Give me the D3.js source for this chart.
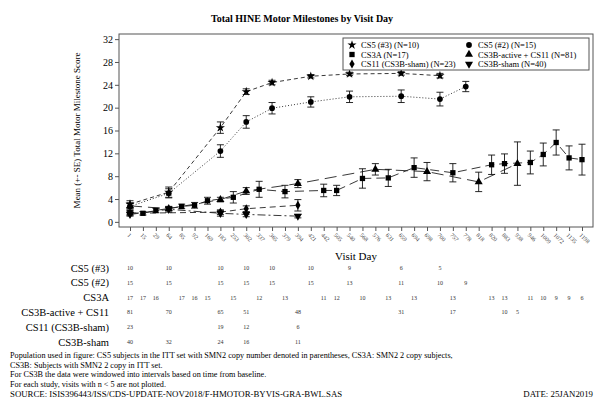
<!DOCTYPE html>
<html lang="en">
<head>
<meta charset="utf-8">
<title>Total HINE Motor Milestones by Visit Day</title>
<script src="https://d3js.org/d3.v7.min.js"></script>
<style>
  body { margin: 0; background: #fff; }
  svg text { font-family: "Liberation Serif", "Times New Roman", serif; fill: #000; }
</style>
</head>
<body>
<svg id="chart" width="604" height="399"></svg>
<script>
// one tick per visit day (categorical axis)
var days = ["1","15","29","64","85","92","169","183","253","302","337","365","379","394","421","442","505",
            "540","568","576","631","659","694","698","700","757","778","818","820","883","938","946",
            "1009","1072","1135","1198"];
var yTicks = [0, 4, 8, 12, 16, 20, 24, 28, 32];

// CS5 (#3)
var cs5n3Days = ["1","64","183","302","365","421","540","659","700"];
var cs5n3Mean = [3.1, 5.2, 16.5, 22.8, 24.4, 25.5, 25.9, 26.0, 25.6];
var cs5n3Se   = [0.6, 0.9, 1.0, 0.5, 0.4, 0.3, 0.3, 0.3, 0.4];
var cs5n3N    = [10, 10, 10, 10, 10, 10, 9, 6, 5];

// CS5 (#2)
var cs5n2Days = ["1","64","183","302","365","421","540","659","700","778"];
var cs5n2Mean = [2.7, 5.0, 12.4, 17.5, 19.9, 21.0, 21.9, 22.0, 21.5, 23.7];
var cs5n2Se   = [0.6, 0.8, 1.1, 1.1, 1.0, 0.9, 1.0, 1.1, 1.2, 0.9];
var cs5n2N    = [15, 15, 15, 15, 15, 15, 13, 11, 10, 9];

// CS3A
var cs3aDays = ["1","15","29","85","92","169","253","337","379","442","505","568","631","694","757",
                "820","883","946","1009","1072","1135","1198"];
var cs3aMean = [1.6, 1.5, 2.0, 2.7, 2.9, 3.7, 4.3, 5.7, 5.3, 5.5, 5.5, 7.6, 7.7, 9.5, 8.6,
                10.0, 10.2, 10.4, 11.8, 13.9, 11.2, 10.9];
var cs3aSe   = [0.4, 0.3, 0.4, 0.4, 0.5, 0.6, 1.0, 1.4, 1.1, 1.1, 0.9, 1.7, 1.5, 1.7, 1.6,
                1.7, 1.7, 2.0, 2.0, 2.2, 2.1, 2.7];
var cs3aN    = [17, 17, 16, 17, 16, 15, 15, 12, 13, 11, 12, 10, 13, 13, 13, 13, 13, 11, 10, 9, 9, 6];

// CS3B-active + CS11 (n row is printed at its own window days)
var cs3bActDays  = ["1","64","183","302","394","576","698","818","938"];
var cs3bActMean  = [2.8, 2.3, 3.9, 5.4, 6.7, 9.2, 8.8, 7.0, 10.2];
var cs3bActSe    = [0.5, 0.4, 0.4, 0.6, 0.7, 1.0, 1.6, 1.7, 3.8];
var cs3bActN     = [81, 70, 65, 51, 48, 31, 17, 10, 5];
var cs3bActNDays = ["1","64","183","302","394","659","757","883","938"];

// CS11 (CS3B-sham)
var cs11Days = ["1","183","302","394"];
var cs11Mean = [1.5, 1.7, 2.3, 2.9];
var cs11Se   = [0.3, 0.4, 0.5, 1.0];
var cs11N    = [23, 19, 12, 6];

// CS3B-sham
var cs3bShamDays = ["1","64","183","302","394"];
var cs3bShamMean = [1.3, 2.2, 1.5, 1.3, 1.0];
var cs3bShamSe   = [0.3, 0.5, 0.5, 0.4, 0.3];
var cs3bShamN    = [40, 32, 24, 16, 11];

var footnotes = [
  "Population used in figure: CS5 subjects in the ITT set with SMN2 copy number denoted in parentheses, CS3A: SMN2 2 copy subjects,",
  "CS3B: Subjects with SMN2 2 copy in ITT set.",
  "For CS3B the data were windowed into intervals based on time from baseline.",
  "For each study, visits with n < 5 are not plotted."
];

var series = [
  {legend: "CS5 (#3) (N=10)", row: "CS5 (#3)", days: cs5n3Days, mean: cs5n3Mean, se: cs5n3Se, n: cs5n3N,
   sym: d3.symbolStar, size: 26, rot: 0, dash: "4,3"},
  {legend: "CS5 (#2) (N=15)", row: "CS5 (#2)", days: cs5n2Days, mean: cs5n2Mean, se: cs5n2Se, n: cs5n2N,
   sym: d3.symbolCircle, size: 26, rot: 0, dash: "1,2"},
  {legend: "CS3A (N=17)", row: "CS3A", days: cs3aDays, mean: cs3aMean, se: cs3aSe, n: cs3aN,
   sym: d3.symbolSquare, size: 28, rot: 0, dash: "9,5"},
  {legend: "CS3B-active + CS11 (N=81)", row: "CS3B-active + CS11", days: cs3bActDays, mean: cs3bActMean, se: cs3bActSe, n: cs3bActN,
   nDays: cs3bActNDays, sym: d3.symbolTriangle, size: 28, rot: 0, dash: "12,6"},
  {legend: "CS11 (CS3B-sham) (N=23)", row: "CS11 (CS3B-sham)", days: cs11Days, mean: cs11Mean, se: cs11Se, n: cs11N,
   sym: d3.symbolDiamond, size: 24, rot: 0, dash: "6,4"},
  {legend: "CS3B-sham (N=40)", row: "CS3B-sham", days: cs3bShamDays, mean: cs3bShamMean, se: cs3bShamSe, n: cs3bShamN,
   sym: d3.symbolTriangle, size: 28, rot: 180, dash: "8,3,2,3"}
];

var svg = d3.select("#chart");
svg.append("rect").attr("width", 604).attr("height", 399).attr("fill", "#fff");

var plot = {left: 119, right: 593, top: 34, bottom: 227};

var x = d3.scalePoint().domain(days).range([130, 582]);
var y = d3.scaleLinear().domain([-0.9, 32.9]).range([plot.bottom, plot.top]);

// title
svg.append("text")
    .attr("x", 302).attr("y", 22)
    .attr("text-anchor", "middle")
    .style("font-size", "10px").style("font-weight", "bold")
    .text("Total HINE Motor Milestones by Visit Day");

// frame
svg.append("rect")
    .attr("x", plot.left).attr("y", plot.top)
    .attr("width", plot.right - plot.left).attr("height", plot.bottom - plot.top)
    .attr("fill", "none").attr("stroke", "#555").attr("stroke-width", 1);

// y axis
var yAxis = svg.append("g")
    .attr("transform", "translate(" + plot.left + ",0)")
    .call(d3.axisLeft(y).tickValues(yTicks).tickSize(4).tickPadding(2));
yAxis.select(".domain").remove();
yAxis.selectAll("line").attr("stroke", "#555");
yAxis.selectAll("text").style("font-size", "10px").style("font-family", "Liberation Serif, serif");

svg.append("text")
    .attr("transform", "translate(80," + ((plot.top + plot.bottom) / 2) + ") rotate(-90)")
    .attr("text-anchor", "middle")
    .style("font-size", "9px")
    .text("Mean (+- SE) Total Motor Milestone Score");

// x axis
var xAxis = svg.append("g")
    .attr("transform", "translate(0," + plot.bottom + ")")
    .call(d3.axisBottom(x).tickSize(4).tickPadding(2));
xAxis.select(".domain").remove();
xAxis.selectAll("line").attr("stroke", "#555");
xAxis.selectAll("text")
    .style("font-size", "6px").style("font-family", "Liberation Serif, serif")
    .style("fill", "#444")
    .attr("text-anchor", "start")
    .attr("transform", "translate(2,3) rotate(45)")
    .attr("dy", "0.3em");

svg.append("text")
    .attr("x", (plot.left + plot.right) / 2).attr("y", 260)
    .attr("text-anchor", "middle")
    .style("font-size", "11px")
    .text("Visit Day");

// lines
var line = d3.line()
    .x(function(d) { return x(d.day); })
    .y(function(d) { return y(d.mean); });

series.forEach(function(s) {
    s.points = s.days.map(function(d, i) { return {day: d, mean: s.mean[i], se: s.se[i]}; });
    var nd = s.nDays || s.days;
    s.counts = nd.map(function(d, i) { return {day: d, n: s.n[i]}; });
});

svg.append("g").selectAll("path")
    .data(series)
  .enter().append("path")
    .attr("d", function(s) { return line(s.points); })
    .attr("fill", "none")
    .attr("stroke", "#222")
    .attr("stroke-width", 0.9)
    .attr("stroke-dasharray", function(s) { return s.dash; });

// error bars
series.forEach(function(s) {
    var g = svg.append("g").attr("stroke", "#111").attr("stroke-width", 0.9);
    s.points.forEach(function(p) {
        var cx = x(p.day), y0 = y(p.mean - p.se), y1 = y(p.mean + p.se);
        g.append("line").attr("x1", cx).attr("x2", cx).attr("y1", y0).attr("y2", y1);
        g.append("line").attr("x1", cx - 3.5).attr("x2", cx + 3.5).attr("y1", y0).attr("y2", y0);
        g.append("line").attr("x1", cx - 3.5).attr("x2", cx + 3.5).attr("y1", y1).attr("y2", y1);
    });
});

// markers
series.forEach(function(s) {
    svg.append("g").selectAll("path")
        .data(s.points)
      .enter().append("path")
        .attr("d", d3.symbol().type(s.sym).size(s.size))
        .attr("transform", function(p) {
            return "translate(" + x(p.day) + "," + y(p.mean) + ") rotate(" + s.rot + ")";
        })
        .attr("fill", "#000");
});

// legend
var lg = {x: 343, y: 38, w: 246, h: 32};
svg.append("rect")
    .attr("x", lg.x).attr("y", lg.y).attr("width", lg.w).attr("height", lg.h)
    .attr("fill", "#fff").attr("stroke", "#555").attr("stroke-width", 1);

series.forEach(function(s, i) {
    var col = i % 2, row = Math.floor(i / 2);
    var mx = lg.x + 9 + col * 117, my = lg.y + 7 + row * 9.5;
    svg.append("path")
        .attr("d", d3.symbol().type(s.sym).size(s.size))
        .attr("transform", "translate(" + mx + "," + my + ") rotate(" + s.rot + ")")
        .attr("fill", "#000");
    svg.append("text")
        .attr("x", mx + 9).attr("y", my + 3)
        .style("font-size", "8.5px")
        .text(s.legend);
});

// at-risk table
series.forEach(function(s, i) {
    var ry = 268 + i * 14.8;
    svg.append("text")
        .attr("x", 109).attr("y", ry + 3.5)
        .attr("text-anchor", "end")
        .style("font-size", "10.5px")
        .text(s.row);
    svg.append("g").selectAll("text")
        .data(s.counts)
      .enter().append("text")
        .attr("x", function(p) { return x(p.day); })
        .attr("y", ry + 2)
        .attr("text-anchor", "middle")
        .style("font-size", "6px")
        .style("fill", "#333")
        .text(function(p) { return p.n; });
});

// footnotes
footnotes.forEach(function(f, i) {
    svg.append("text")
        .attr("x", 10).attr("y", 358 + i * 9.7)
        .style("font-size", "8.2px")
        .text(f);
});
svg.append("text")
    .attr("x", 10).attr("y", 396.8)
    .style("font-size", "8.8px")
    .text("SOURCE: ISIS396443/ISS/CDS-UPDATE-NOV2018/F-HMOTOR-BYVIS-GRA-BWL.SAS");
svg.append("text")
    .attr("x", 593).attr("y", 396.8)
    .attr("text-anchor", "end")
    .style("font-size", "8.8px")
    .text("DATE: 25JAN2019");
</script>
</body>
</html>
